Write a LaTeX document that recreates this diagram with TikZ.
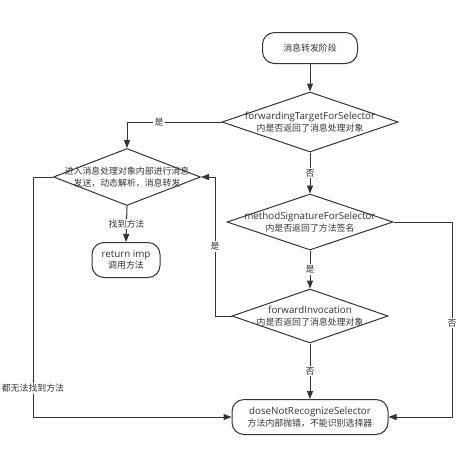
\documentclass[tikz,border=0pt]{standalone}
\usepackage{fontspec}
\setmainfont{Noto Sans CJK SC}
\newfontfamily\latf[Scale=1.1]{Open Sans}
\usetikzlibrary{shapes.geometric,arrows.meta}
\definecolor{linec}{HTML}{333333}
\begin{document}
\begin{tikzpicture}[x=1pt,y=-1pt,
  every node/.style={text=linec,font=\fontsize{8.9}{11.5}\selectfont},
  term/.style={draw=linec,line width=1pt,rectangle,rounded corners=12pt,align=center,inner sep=0pt},
  dia/.style={draw=linec,line width=1pt,diamond,inner sep=0pt},
  txt/.style={align=center,inner sep=0pt},
  lab/.style={fill=white,inner sep=1.2pt},
  conn/.style={draw=linec,line width=1pt},
  arr/.style={conn,-{Triangle[width=6pt,length=8pt]}}]
\useasboundingbox (0,0) rectangle (474,456);
\node[term,minimum width=95,minimum height=31] (start) at (310,48) {消息转发阶段};
\node[dia,minimum width=176,minimum height=60] (d1) at (310,122) {};
\node[txt] (t1) at (d1.center) {{\latf forwardingTargetForSelector}\\内是否返回了消息处理对象};
\node[dia,minimum width=147,minimum height=57] (d2) at (127,177) {};
\node[txt] (t2) at (d2.center) {进入消息处理对象内部进行消息\\发送，动态解析，消息转发};
\node[term,minimum width=68,minimum height=35] (ret) at (126,260) {{\latf return imp}\\调用方法};
\node[dia,minimum width=166,minimum height=56] (d3) at (310,222) {};
\node[txt] (t3) at (d3.center) {{\latf methodSignatureForSelector}\\内是否返回了方法签名};
\node[dia,minimum width=156,minimum height=54] (d4) at (310,316) {};
\node[txt] (t4) at (d4.center) {{\latf forwardInvocation}\\内是否返回了消息处理对象};
\node[term,minimum width=156,minimum height=35] (end) at (310,417) {{\latf doseNotRecognizeSelector}\\方法内部抛错，不能识别选择器};
\coordinate (rc) at (452,222);
\coordinate (mc) at (215,316);
\coordinate (lc) at (33,177);
\draw[arr] (start.south) -- (d1.north);
\draw[arr] (d1.west) -| node[lab,pos=0.33] {是} (d2.north);
\draw[arr] (d1.south) -- node[lab] {否} (d3.north);
\draw[arr] (d2.south) -- node[lab] {找到方法} (ret.north);
\draw[arr] (d3.south) -- node[lab] {是} (d4.north);
\draw[arr] (d4.south) -- node[lab] {否} (end.north);
\draw[arr] (d3.east) -- (rc) |- node[lab,pos=0.26] {否} (end.east);
\draw[arr] (d4.west) -- (mc) |- node[lab,pos=0.25] {是} (d2.east);
\draw[arr] (d2.west) -- (lc) |- node[lab,pos=0.44] {都无法找到方法} (end.west);
\end{tikzpicture}
\end{document}
